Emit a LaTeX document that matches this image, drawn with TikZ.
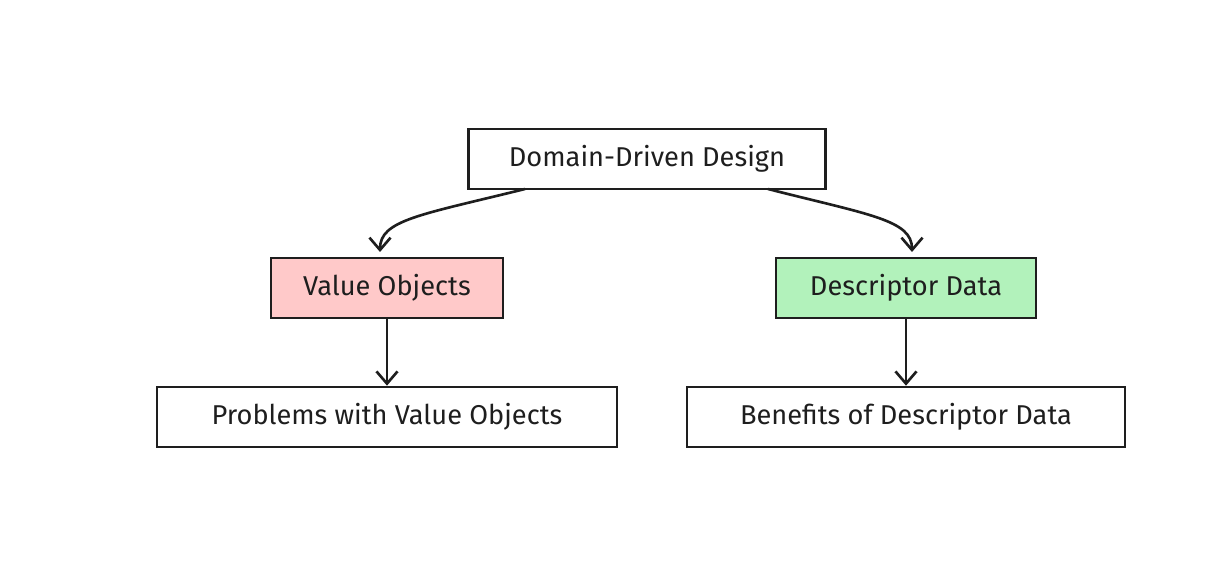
\documentclass[tikz,border=0pt]{standalone}
\usepackage{fontspec}
\setmainfont{Fira Sans}
\usetikzlibrary{arrows.meta}
\definecolor{pinkf}{HTML}{FFC9C9}
\definecolor{greenf}{HTML}{B2F2BB}
\definecolor{ink}{HTML}{1E1E1E}
\begin{document}
\begin{tikzpicture}[x=0.02cm,y=-0.02cm,
  box/.style={draw=ink,line width=1.5pt,minimum height=1.2cm,inner sep=0pt,font=\fontsize{15.5}{18}\selectfont,text=ink},
  arr/.style={draw=ink,line width=1.5pt,-{Straight Barb[length=7pt,width=12pt,line width=1.5pt]}}]
\useasboundingbox (0,0) rectangle (1214,567);
\node[box,minimum width=7.14cm] (ddd) at (647,159) {Domain-Driven Design};
\node[box,minimum width=4.64cm,fill=pinkf] (vo) at (387,288) {Value Objects};
\node[box,minimum width=5.2cm,fill=greenf] (dd) at (906,288) {Descriptor Data};
\node[box,minimum width=9.2cm] (pv) at (387,417) {Problems with Value Objects};
\node[box,minimum width=8.76cm] (bd) at (906,417) {Benefits of Descriptor Data};
\coordinate (a1) at (525,189);
\coordinate (a2) at (768,189);
\draw[arr] (a1) .. controls (420,215) and (380,220) .. (380,252);
\draw[arr] (a2) .. controls (870,215) and (912,220) .. (912,252);
\draw[arr] (vo) -- (pv);
\draw[arr] (dd) -- (bd);
\end{tikzpicture}
\end{document}
